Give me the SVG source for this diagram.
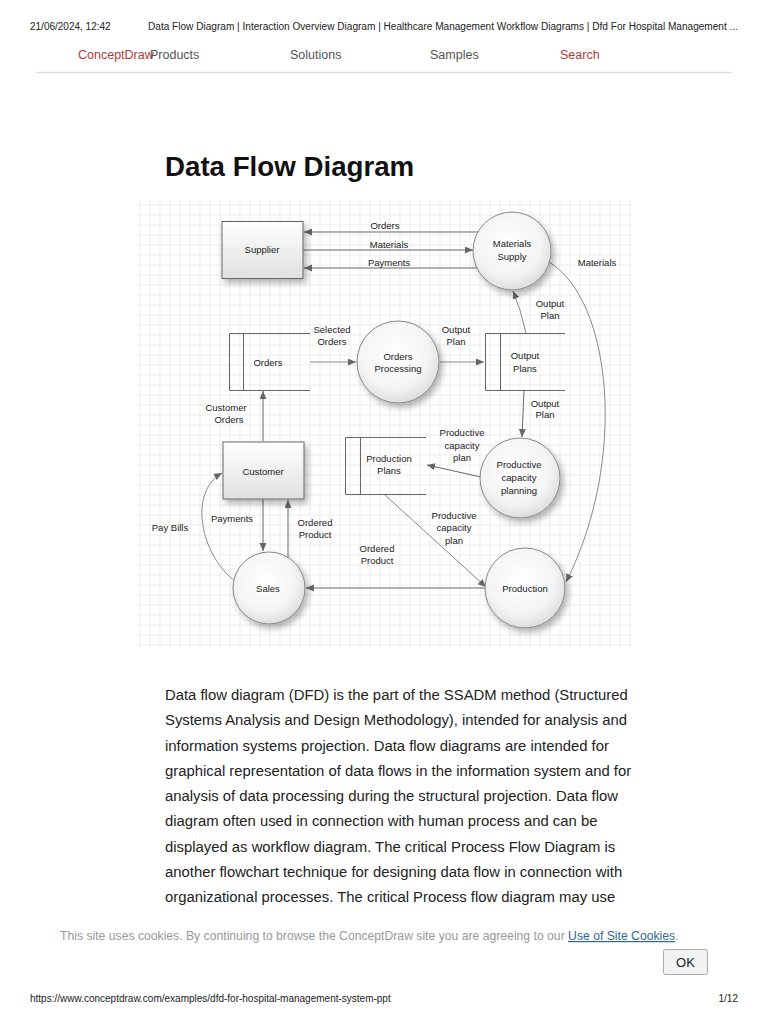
<svg xmlns="http://www.w3.org/2000/svg" width="768" height="1024" viewBox="0 0 768 1024">
<defs>
<style>
.hdr{font-family:"Liberation Sans",Arial,sans-serif;font-size:10px;fill:#222}
.nav{font-family:"Liberation Sans",Arial,sans-serif;font-size:12.5px;fill:#555}
.red{fill:#b23b3b}
.title{font-family:"Liberation Sans",Arial,sans-serif;font-size:27.7px;font-weight:bold;fill:#111}
.body{font-family:"Liberation Sans",Arial,sans-serif;font-size:14.85px;fill:#222}
.ck{font-family:"Liberation Sans",Arial,sans-serif;font-size:12.2px;fill:#999}
.lnk{fill:#2f6a8f;text-decoration:underline}
.t{font-family:"Liberation Sans",Arial,sans-serif;font-size:9.5px;fill:#222;text-anchor:middle}
.box{fill:url(#rg);stroke:#666;stroke-width:1;filter:url(#sh)}
.circ{fill:url(#cg);stroke:#888;stroke-width:1;filter:url(#sh)}
.store{fill:none;stroke:#666;stroke-width:1}
.c{fill:none;stroke:#666;stroke-width:1;marker-end:url(#ah)}
.cn{fill:none;stroke:#888;stroke-width:1;marker-end:url(#ah)}
</style>
<pattern id="grid" x="139.5" y="204.5" width="10" height="10" patternUnits="userSpaceOnUse">
<path d="M0 0 H10 M0 0 V10" stroke="#dcdcdc" stroke-width="1" fill="none"/>
</pattern>
<linearGradient id="rg" x1="0" y1="0" x2="0" y2="1">
<stop offset="0" stop-color="#ffffff"/>
<stop offset="1" stop-color="#e0e0e0"/>
</linearGradient>
<radialGradient id="cg" cx="0.45" cy="0.4" r="0.6">
<stop offset="0" stop-color="#ffffff"/>
<stop offset="0.7" stop-color="#f4f4f4"/>
<stop offset="1" stop-color="#dedede"/>
</radialGradient>
<filter id="sh" x="-30%" y="-30%" width="160%" height="160%">
<feDropShadow dx="3" dy="4" stdDeviation="3" flood-color="#000" flood-opacity="0.3"/>
</filter>
<marker id="ah" markerWidth="9" markerHeight="8" refX="8" refY="3.5" orient="auto" markerUnits="userSpaceOnUse">
<path d="M0 0 L8 3.5 L0 7 Z" fill="#666"/>
</marker>
</defs>
<rect width="768" height="1024" fill="#fff"/>

<!-- page header -->
<text class="hdr" x="30" y="30">21/06/2024, 12:42</text>
<text class="hdr" x="148" y="30" textLength="590" lengthAdjust="spacingAndGlyphs">Data Flow Diagram | Interaction Overview Diagram | Healthcare Management Workflow Diagrams | Dfd For Hospital Management ...</text>
<text class="nav red" x="78" y="59">ConceptDraw</text>
<text class="nav" x="150" y="59">Products</text>
<text class="nav" x="290" y="59">Solutions</text>
<text class="nav" x="430" y="59">Samples</text>
<text class="nav red" x="560" y="59">Search</text>
<line x1="36" y1="72.5" x2="732" y2="72.5" stroke="#ddd" stroke-width="1.5"/>

<text class="title" x="165" y="176">Data Flow Diagram</text>

<!-- diagram background -->
<rect x="138" y="200" width="494" height="448" fill="#fff"/>
<rect x="138" y="200" width="494" height="448" fill="url(#grid)"/>

<!-- connectors -->
<g id="connectors">
<path class="c" d="M478 232 L304 232"/>
<path class="c" d="M303 250 L473 250"/>
<path class="c" d="M478 268 L304 268"/>
<path class="cn" d="M549 262 C612 300 628 460 566 582"/>
<path class="cn" d="M526 333 Q521 310 513 291"/>
<path class="cn" d="M310 362 L356 362"/>
<path class="cn" d="M440 362 L484 362"/>
<path class="c" d="M524 390 L522 437"/>
<path class="c" d="M481 477 L427 465"/>
<path class="cn" d="M385 495 L486 587"/>
<path class="c" d="M486 588 L306 588"/>
<path class="c" d="M263 441 L263 391"/>
<path class="c" d="M263 499 L263 551"/>
<path class="c" d="M288 557 L288 500"/>
<path class="cn" d="M236 582 C200 555 188 492 222 473"/>
<text class="t" x="385" y="228.5">Orders</text>
<text class="t" x="389" y="247.5">Materials</text>
<text class="t" x="389" y="265.5">Payments</text>
<text class="t" x="597" y="265.5">Materials</text>
<text class="t" x="550" y="306.5">Output</text>
<text class="t" x="550" y="319">Plan</text>
<text class="t" x="332" y="332.5">Selected</text>
<text class="t" x="332" y="345">Orders</text>
<text class="t" x="456" y="332.5">Output</text>
<text class="t" x="456" y="345">Plan</text>
<text class="t" x="545" y="406.5">Output</text>
<text class="t" x="545" y="418">Plan</text>
<text class="t" x="462" y="436">Productive</text>
<text class="t" x="462" y="448.5">capacity</text>
<text class="t" x="462" y="461">plan</text>
<text class="t" x="454" y="518.5">Productive</text>
<text class="t" x="454" y="531">capacity</text>
<text class="t" x="454" y="543.5">plan</text>
<text class="t" x="377" y="551.5">Ordered</text>
<text class="t" x="377" y="564">Product</text>
<text class="t" x="226" y="410.5">Customer</text>
<text class="t" x="229" y="422.5">Orders</text>
<text class="t" x="232" y="521.5">Payments</text>
<text class="t" x="315" y="525.5">Ordered</text>
<text class="t" x="315" y="537.5">Product</text>
<text class="t" x="170" y="530.5">Pay Bills</text>
</g>

<!-- nodes -->
<g id="supplier">
<rect class="box" x="222" y="221.5" width="81" height="57"/>
<text class="t" x="262" y="252.5">Supplier</text>
</g>
<g id="materials-supply">
<circle class="circ" cx="512" cy="251" r="39"/>
<text class="t" x="512" y="246.5">Materials</text>
<text class="t" x="512" y="259.5">Supply</text>
</g>
<g id="orders">
<path class="store" d="M310 333.5 H229.5 V390.5 H310 M243.5 333.5 V390.5"/>
<text class="t" x="268" y="365.5">Orders</text>
</g>
<g id="orders-processing">
<circle class="circ" cx="398" cy="362" r="41"/>
<text class="t" x="398" y="359.5">Orders</text>
<text class="t" x="398" y="371.5">Processing</text>
</g>
<g id="output-plans">
<path class="store" d="M565 333.5 H485.5 V390.5 H565 M500.5 333.5 V390.5"/>
<text class="t" x="525" y="358.5">Output</text>
<text class="t" x="525" y="371.5">Plans</text>
</g>
<g id="productive-capacity-planning">
<circle class="circ" cx="520" cy="478" r="40"/>
<text class="t" x="519" y="467.5">Productive</text>
<text class="t" x="519" y="480.5">capacity</text>
<text class="t" x="519" y="493.5">planning</text>
</g>
<g id="production-plans">
<path class="store" d="M426 437.5 H345.5 V494.5 H426 M360.5 437.5 V494.5"/>
<text class="t" x="389" y="461.5">Production</text>
<text class="t" x="389" y="473.5">Plans</text>
</g>
<g id="customer">
<rect class="box" x="223" y="442" width="81" height="57"/>
<text class="t" x="263" y="474.5">Customer</text>
</g>
<g id="sales">
<circle class="circ" cx="269" cy="588" r="36"/>
<text class="t" x="268" y="591.5">Sales</text>
</g>
<g id="production">
<circle class="circ" cx="525" cy="588" r="40"/>
<text class="t" x="525" y="591.5">Production</text>
</g>

<!-- body text -->
<text class="body" x="165" y="700">Data flow diagram (DFD) is the part of the SSADM method (Structured</text>
<text class="body" x="165" y="725.3">Systems Analysis and Design Methodology), intended for analysis and</text>
<text class="body" x="165" y="750.5">information systems projection. Data flow diagrams are intended for</text>
<text class="body" x="165" y="775.8">graphical representation of data flows in the information system and for</text>
<text class="body" x="165" y="801">analysis of data processing during the structural projection. Data flow</text>
<text class="body" x="165" y="826.3">diagram often used in connection with human process and can be</text>
<text class="body" x="165" y="851.5">displayed as workflow diagram. The critical Process Flow Diagram is</text>
<text class="body" x="165" y="876.8">another flowchart technique for designing data flow in connection with</text>
<text class="body" x="165" y="902">organizational processes. The critical Process flow diagram may use</text>

<!-- cookie bar -->
<rect x="0" y="918" width="768" height="68" fill="#fff" opacity="0.9"/>
<text class="ck" x="60" y="940">This site uses cookies. By continuing to browse the ConceptDraw site you are agreeing to our <tspan class="lnk">Use of Site Cookies</tspan>.</text>
<rect x="663.5" y="949.5" width="44" height="25" rx="2" fill="#f2f2f2" stroke="#aaa"/>
<text x="685.5" y="966.5" font-family="Liberation Sans, Arial, sans-serif" font-size="13" fill="#222" text-anchor="middle">OK</text>

<!-- footer -->
<text class="hdr" x="30" y="1002">https://www.conceptdraw.com/examples/dfd-for-hospital-management-system-ppt</text>
<text class="hdr" x="738" y="1002" text-anchor="end">1/12</text>
</svg>
